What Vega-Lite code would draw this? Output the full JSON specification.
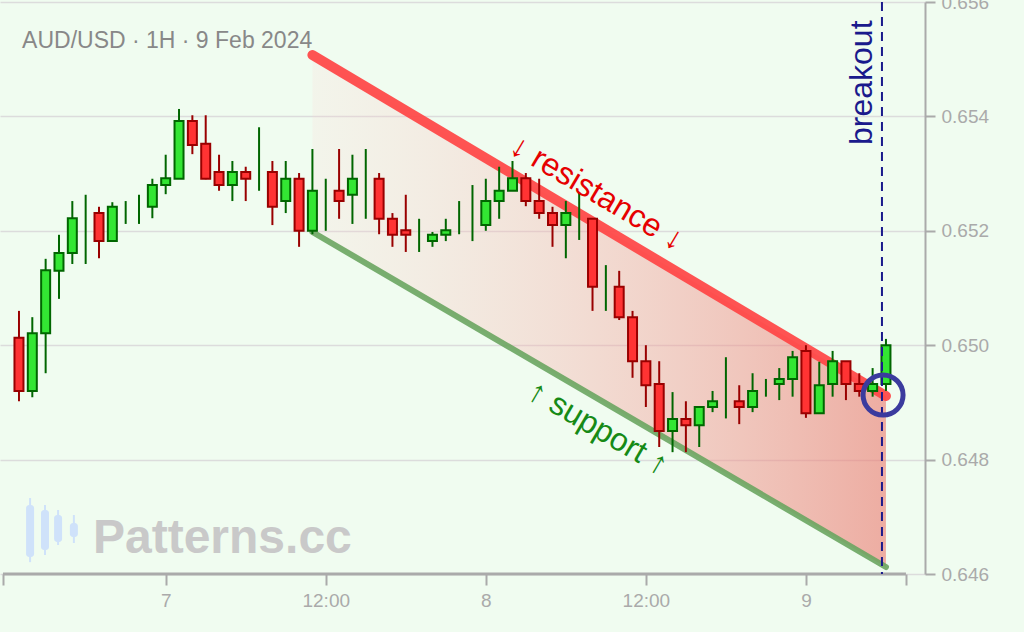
{
  "$schema": "https://vega.github.io/schema/vega-lite/v6.json",
  "width": 925,
  "height": 572,
  "autosize": {"type": "none"},
  "padding": {"left": 0, "top": 2, "right": 99, "bottom": 58},
  "background": "#f0fcf0",
  "config": {"view": {"stroke": null}, "font": "Liberation Sans"},
  "datasets": {
    "candles": [
      {"t": "2024-02-06T13:00:00Z", "o": 0.65013, "h": 0.65060, "l": 0.64902, "c": 0.64920},
      {"t": "2024-02-06T14:00:00Z", "o": 0.64920, "h": 0.65049, "l": 0.64909, "c": 0.65021},
      {"t": "2024-02-06T15:00:00Z", "o": 0.65021, "h": 0.65151, "l": 0.64951, "c": 0.65131},
      {"t": "2024-02-06T16:00:00Z", "o": 0.65130, "h": 0.65193, "l": 0.65081, "c": 0.65161},
      {"t": "2024-02-06T17:00:00Z", "o": 0.65161, "h": 0.65252, "l": 0.65142, "c": 0.65222},
      {"t": "2024-02-06T18:00:00Z", "o": 0.65210, "h": 0.65263, "l": 0.65142, "c": 0.65210},
      {"t": "2024-02-06T19:00:00Z", "o": 0.65231, "h": 0.65242, "l": 0.65152, "c": 0.65182},
      {"t": "2024-02-06T20:00:00Z", "o": 0.65182, "h": 0.65250, "l": 0.65182, "c": 0.65242},
      {"t": "2024-02-06T21:00:00Z", "o": 0.65230, "h": 0.65252, "l": 0.65212, "c": 0.65230},
      {"t": "2024-02-06T22:00:00Z", "o": 0.65235, "h": 0.65263, "l": 0.65212, "c": 0.65235},
      {"t": "2024-02-06T23:00:00Z", "o": 0.65242, "h": 0.65291, "l": 0.65222, "c": 0.65280},
      {"t": "2024-02-07T00:00:00Z", "o": 0.65280, "h": 0.65333, "l": 0.65264, "c": 0.65292},
      {"t": "2024-02-07T01:00:00Z", "o": 0.65291, "h": 0.65413, "l": 0.65291, "c": 0.65392},
      {"t": "2024-02-07T02:00:00Z", "o": 0.65392, "h": 0.65402, "l": 0.65334, "c": 0.65350},
      {"t": "2024-02-07T03:00:00Z", "o": 0.65352, "h": 0.65402, "l": 0.65290, "c": 0.65291},
      {"t": "2024-02-07T04:00:00Z", "o": 0.65303, "h": 0.65333, "l": 0.65270, "c": 0.65280},
      {"t": "2024-02-07T05:00:00Z", "o": 0.65280, "h": 0.65322, "l": 0.65252, "c": 0.65303},
      {"t": "2024-02-07T06:00:00Z", "o": 0.65303, "h": 0.65312, "l": 0.65252, "c": 0.65291},
      {"t": "2024-02-07T07:00:00Z", "o": 0.65300, "h": 0.65381, "l": 0.65270, "c": 0.65300},
      {"t": "2024-02-07T08:00:00Z", "o": 0.65303, "h": 0.65322, "l": 0.65210, "c": 0.65242},
      {"t": "2024-02-07T09:00:00Z", "o": 0.65252, "h": 0.65322, "l": 0.65231, "c": 0.65291},
      {"t": "2024-02-07T10:00:00Z", "o": 0.65291, "h": 0.65301, "l": 0.65172, "c": 0.65200},
      {"t": "2024-02-07T11:00:00Z", "o": 0.65200, "h": 0.65343, "l": 0.65194, "c": 0.65270},
      {"t": "2024-02-07T12:00:00Z", "o": 0.65250, "h": 0.65291, "l": 0.65200, "c": 0.65250},
      {"t": "2024-02-07T13:00:00Z", "o": 0.65270, "h": 0.65343, "l": 0.65221, "c": 0.65252},
      {"t": "2024-02-07T14:00:00Z", "o": 0.65263, "h": 0.65333, "l": 0.65212, "c": 0.65291},
      {"t": "2024-02-07T15:00:00Z", "o": 0.65280, "h": 0.65343, "l": 0.65221, "c": 0.65280},
      {"t": "2024-02-07T16:00:00Z", "o": 0.65291, "h": 0.65301, "l": 0.65194, "c": 0.65221},
      {"t": "2024-02-07T17:00:00Z", "o": 0.65221, "h": 0.65231, "l": 0.65172, "c": 0.65193},
      {"t": "2024-02-07T18:00:00Z", "o": 0.65201, "h": 0.65263, "l": 0.65163, "c": 0.65193},
      {"t": "2024-02-07T19:00:00Z", "o": 0.65190, "h": 0.65221, "l": 0.65163, "c": 0.65190},
      {"t": "2024-02-07T20:00:00Z", "o": 0.65182, "h": 0.65198, "l": 0.65172, "c": 0.65193},
      {"t": "2024-02-07T21:00:00Z", "o": 0.65193, "h": 0.65221, "l": 0.65182, "c": 0.65201},
      {"t": "2024-02-07T22:00:00Z", "o": 0.65220, "h": 0.65252, "l": 0.65194, "c": 0.65220},
      {"t": "2024-02-07T23:00:00Z", "o": 0.65230, "h": 0.65280, "l": 0.65182, "c": 0.65230},
      {"t": "2024-02-08T00:00:00Z", "o": 0.65210, "h": 0.65291, "l": 0.65200, "c": 0.65252},
      {"t": "2024-02-08T01:00:00Z", "o": 0.65252, "h": 0.65312, "l": 0.65221, "c": 0.65270},
      {"t": "2024-02-08T02:00:00Z", "o": 0.65270, "h": 0.65322, "l": 0.65270, "c": 0.65292},
      {"t": "2024-02-08T03:00:00Z", "o": 0.65292, "h": 0.65301, "l": 0.65243, "c": 0.65252},
      {"t": "2024-02-08T04:00:00Z", "o": 0.65252, "h": 0.65291, "l": 0.65221, "c": 0.65231},
      {"t": "2024-02-08T05:00:00Z", "o": 0.65231, "h": 0.65242, "l": 0.65172, "c": 0.65210},
      {"t": "2024-02-08T06:00:00Z", "o": 0.65210, "h": 0.65252, "l": 0.65152, "c": 0.65231},
      {"t": "2024-02-08T07:00:00Z", "o": 0.65230, "h": 0.65268, "l": 0.65184, "c": 0.65230},
      {"t": "2024-02-08T08:00:00Z", "o": 0.65221, "h": 0.65222, "l": 0.65060, "c": 0.65102},
      {"t": "2024-02-08T09:00:00Z", "o": 0.65100, "h": 0.65140, "l": 0.65060, "c": 0.65100},
      {"t": "2024-02-08T10:00:00Z", "o": 0.65102, "h": 0.65130, "l": 0.65044, "c": 0.65049},
      {"t": "2024-02-08T11:00:00Z", "o": 0.65049, "h": 0.65060, "l": 0.64943, "c": 0.64972},
      {"t": "2024-02-08T12:00:00Z", "o": 0.64972, "h": 0.65000, "l": 0.64892, "c": 0.64930},
      {"t": "2024-02-08T13:00:00Z", "o": 0.64932, "h": 0.64972, "l": 0.64822, "c": 0.64850},
      {"t": "2024-02-08T14:00:00Z", "o": 0.64850, "h": 0.64918, "l": 0.64813, "c": 0.64871},
      {"t": "2024-02-08T15:00:00Z", "o": 0.64871, "h": 0.64902, "l": 0.64813, "c": 0.64860},
      {"t": "2024-02-08T16:00:00Z", "o": 0.64860, "h": 0.64892, "l": 0.64822, "c": 0.64892},
      {"t": "2024-02-08T17:00:00Z", "o": 0.64892, "h": 0.64920, "l": 0.64883, "c": 0.64902},
      {"t": "2024-02-08T18:00:00Z", "o": 0.64900, "h": 0.64979, "l": 0.64872, "c": 0.64900},
      {"t": "2024-02-08T19:00:00Z", "o": 0.64902, "h": 0.64930, "l": 0.64862, "c": 0.64892},
      {"t": "2024-02-08T20:00:00Z", "o": 0.64892, "h": 0.64951, "l": 0.64883, "c": 0.64920},
      {"t": "2024-02-08T21:00:00Z", "o": 0.64925, "h": 0.64941, "l": 0.64910, "c": 0.64925},
      {"t": "2024-02-08T22:00:00Z", "o": 0.64932, "h": 0.64960, "l": 0.64904, "c": 0.64941},
      {"t": "2024-02-08T23:00:00Z", "o": 0.64941, "h": 0.64990, "l": 0.64910, "c": 0.64979},
      {"t": "2024-02-09T00:00:00Z", "o": 0.64990, "h": 0.65000, "l": 0.64873, "c": 0.64881},
      {"t": "2024-02-09T01:00:00Z", "o": 0.64881, "h": 0.64971, "l": 0.64881, "c": 0.64930},
      {"t": "2024-02-09T02:00:00Z", "o": 0.64932, "h": 0.64990, "l": 0.64910, "c": 0.64972},
      {"t": "2024-02-09T03:00:00Z", "o": 0.64972, "h": 0.64972, "l": 0.64904, "c": 0.64932},
      {"t": "2024-02-09T04:00:00Z", "o": 0.64932, "h": 0.64951, "l": 0.64910, "c": 0.64920},
      {"t": "2024-02-09T05:00:00Z", "o": 0.64920, "h": 0.64960, "l": 0.64910, "c": 0.64932},
      {"t": "2024-02-09T06:00:00Z", "o": 0.64932, "h": 0.65011, "l": 0.64920, "c": 0.65000}
    ],
    "channel": [
      {"t": "2024-02-07T11:00:00Z", "sup": 0.651979, "res": 0.655073},
      {"t": "2024-02-09T06:00:00Z", "sup": 0.646122, "res": 0.649112}
    ],
    "logo": [
      {"t": "2024-02-06T13:50:00Z", "lo": 0.646207, "hi": 0.647328, "b1": 0.646297, "b2": 0.647206},
      {"t": "2024-02-06T14:57:00Z", "lo": 0.646332, "hi": 0.647206, "b1": 0.646419, "b2": 0.647119},
      {"t": "2024-02-06T15:56:00Z", "lo": 0.646507, "hi": 0.647119, "b1": 0.646559, "b2": 0.647031},
      {"t": "2024-02-06T17:07:00Z", "lo": 0.646542, "hi": 0.647031, "b1": 0.646646, "b2": 0.646891}
    ],
    "titletext": [{"t": "2024-02-06T13:14:00Z", "p": 0.655196, "label": "AUD/USD · 1H · 9 Feb 2024"}],
    "watermark": [{"t": "2024-02-06T18:33:00Z", "p": 0.646367, "label": "Patterns.cc"}],
    "xline": [{"t": "2024-02-06T11:48:00Z", "t2": "2024-02-09T07:30:00Z", "p": 0.646}],
    "breakout": [{"t": "2024-02-09T05:42:00Z"}],
    "breaklabel": [{"t": "2024-02-09T04:58:00Z", "p": 0.6535, "label": "breakout"}],
    "ring": [{"t": "2024-02-09T05:47:00Z", "p": 0.649129}],
    "reslabel": [{"t": "2024-02-08T08:20:00Z", "p": 0.652661, "label": "↓ resistance ↓"}],
    "suplabel": [{"t": "2024-02-08T08:25:00Z", "p": 0.648552, "label": "↑ support ↑"}]
  },
  "encoding": {
    "x": {
      "field": "t",
      "type": "temporal",
      "scale": {"type": "utc", "domain": [1707219280000, 1707468937000], "padding": 0},
      "axis": {
        "title": null,
        "grid": false,
        "domain": false,
        "values": [1707220080000, 1707264000000, 1707307200000, 1707350400000, 1707393600000, 1707436800000, 1707463800000],
        "labelExpr": "utchours(datum.value) == 0 && utcminutes(datum.value) == 0 ? utcFormat(datum.value, '%-d') : (utchours(datum.value) == 12 && utcminutes(datum.value) == 0 ? '12:00' : '')",
        "labelOverlap": false,
        "tickColor": "#aaaaaa",
        "tickSize": 11,
        "tickWidth": 2,
        "labelColor": "#aaaaaa",
        "labelFontSize": 19,
        "labelPadding": 6,
        "labelFont": "Liberation Sans"
      }
    }
  },
  "layer": [
    {
      "data": {"name": "channel"},
      "mark": {
        "type": "area",
        "color": {
          "gradient": "linear", "x1": 0, "y1": 0, "x2": 1, "y2": 0,
          "stops": [
            {"offset": 0, "color": "rgba(255,210,210,0.18)"},
            {"offset": 1, "color": "rgba(235,120,110,0.6)"}
          ]
        }
      },
      "encoding": {
        "y": {
          "field": "sup", "type": "quantitative", "title": null,
          "scale": {"domain": [0.646, 0.656], "nice": false, "zero": false},
          "axis": {
            "orient": "right", "title": null,
            "values": [0.646, 0.648, 0.65, 0.652, 0.654, 0.656],
            "format": ".3f",
            "grid": true, "gridColor": "#dcdcdc", "gridWidth": 1.5,
            "domainColor": "#aaaaaa", "domainWidth": 2,
            "tickColor": "#aaaaaa", "tickSize": 10, "tickWidth": 2,
            "labelColor": "#aaaaaa", "labelFontSize": 19, "labelPadding": 6,
            "labelFont": "Liberation Sans"
          }
        },
        "y2": {"field": "res"}
      }
    },
    {
      "data": {"name": "titletext"},
      "mark": {"type": "text", "align": "left", "baseline": "alphabetic", "fontSize": 23, "color": "#888888", "font": "Liberation Sans"},
      "encoding": {
        "y": {"field": "p", "type": "quantitative", "title": null, "scale": {"domain": [0.646, 0.656], "nice": false, "zero": false}},
        "text": {"field": "label"}
      }
    },
    {
      "data": {"name": "logo"},
      "mark": {"type": "rule", "color": "#cfe2fa", "strokeWidth": 2},
      "encoding": {
        "y": {"field": "lo", "type": "quantitative", "title": null, "scale": {"domain": [0.646, 0.656], "nice": false, "zero": false}},
        "y2": {"field": "hi"}
      }
    },
    {
      "data": {"name": "logo"},
      "mark": {"type": "bar", "color": "#cfe2fa", "width": 8, "cornerRadius": 3},
      "encoding": {
        "y": {"field": "b1", "type": "quantitative", "title": null, "scale": {"domain": [0.646, 0.656], "nice": false, "zero": false}},
        "y2": {"field": "b2"}
      }
    },
    {
      "data": {"name": "watermark"},
      "mark": {"type": "text", "align": "left", "baseline": "alphabetic", "fontSize": 48, "fontWeight": "bold", "color": "#c9c9c9", "font": "Liberation Sans"},
      "encoding": {
        "y": {"field": "p", "type": "quantitative", "title": null, "scale": {"domain": [0.646, 0.656], "nice": false, "zero": false}},
        "text": {"field": "label"}
      }
    },
    {
      "data": {"name": "channel"},
      "mark": {"type": "line", "color": "#6aa560", "strokeWidth": 6, "strokeCap": "round", "opacity": 0.9},
      "encoding": {
        "y": {"field": "sup", "type": "quantitative", "title": null, "scale": {"domain": [0.646, 0.656], "nice": false, "zero": false}}
      }
    },
    {
      "data": {"name": "channel"},
      "mark": {"type": "line", "color": "#ff4444", "strokeWidth": 10, "strokeCap": "round", "opacity": 0.92},
      "encoding": {
        "y": {"field": "res", "type": "quantitative", "title": null, "scale": {"domain": [0.646, 0.656], "nice": false, "zero": false}}
      }
    },
    {
      "data": {"name": "candles"},
      "mark": {"type": "rule", "strokeWidth": 2},
      "encoding": {
        "y": {"field": "l", "type": "quantitative", "title": null, "scale": {"domain": [0.646, 0.656], "nice": false, "zero": false}},
        "y2": {"field": "h"},
        "color": {"condition": {"test": "datum.c >= datum.o", "value": "#006600"}, "value": "#990000"}
      }
    },
    {
      "data": {"name": "candles"},
      "transform": [{"filter": "datum.o != datum.c"}],
      "mark": {"type": "bar", "width": 9, "strokeWidth": 2},
      "encoding": {
        "y": {"field": "o", "type": "quantitative", "title": null, "scale": {"domain": [0.646, 0.656], "nice": false, "zero": false}},
        "y2": {"field": "c"},
        "fill": {"condition": {"test": "datum.c >= datum.o", "value": "#33e633"}, "value": "#ff3333"},
        "stroke": {"condition": {"test": "datum.c >= datum.o", "value": "#006600"}, "value": "#990000"}
      }
    },
    {
      "data": {"name": "xline"},
      "mark": {"type": "rule", "color": "#aaaaaa", "strokeWidth": 3},
      "encoding": {
        "x2": {"field": "t2"},
        "y": {"field": "p", "type": "quantitative", "title": null, "scale": {"domain": [0.646, 0.656], "nice": false, "zero": false}}
      }
    },
    {
      "data": {"name": "breakout"},
      "mark": {"type": "rule", "color": "#1a1a8c", "strokeWidth": 2, "strokeDash": [9, 6]},
      "encoding": {}
    },
    {
      "data": {"name": "breaklabel"},
      "mark": {"type": "text", "angle": 270, "align": "left", "baseline": "alphabetic", "fontSize": 32, "color": "#1a1a8c", "font": "Liberation Sans"},
      "encoding": {
        "y": {"field": "p", "type": "quantitative", "title": null, "scale": {"domain": [0.646, 0.656], "nice": false, "zero": false}},
        "text": {"field": "label"}
      }
    },
    {
      "data": {"name": "ring"},
      "mark": {"type": "point", "shape": "circle", "filled": false, "size": 1600, "strokeWidth": 5, "color": "#3b3b9e", "opacity": 1},
      "encoding": {
        "y": {"field": "p", "type": "quantitative", "title": null, "scale": {"domain": [0.646, 0.656], "nice": false, "zero": false}}
      }
    },
    {
      "data": {"name": "reslabel"},
      "mark": {"type": "text", "angle": 30.7, "align": "center", "baseline": "middle", "fontSize": 32, "color": "#e60000", "font": "Liberation Sans"},
      "encoding": {
        "y": {"field": "p", "type": "quantitative", "title": null, "scale": {"domain": [0.646, 0.656], "nice": false, "zero": false}},
        "text": {"field": "label"}
      }
    },
    {
      "data": {"name": "suplabel"},
      "mark": {"type": "text", "angle": 30.3, "align": "center", "baseline": "middle", "fontSize": 32, "color": "#168a16", "font": "Liberation Sans"},
      "encoding": {
        "y": {"field": "p", "type": "quantitative", "title": null, "scale": {"domain": [0.646, 0.656], "nice": false, "zero": false}},
        "text": {"field": "label"}
      }
    }
  ]
}
